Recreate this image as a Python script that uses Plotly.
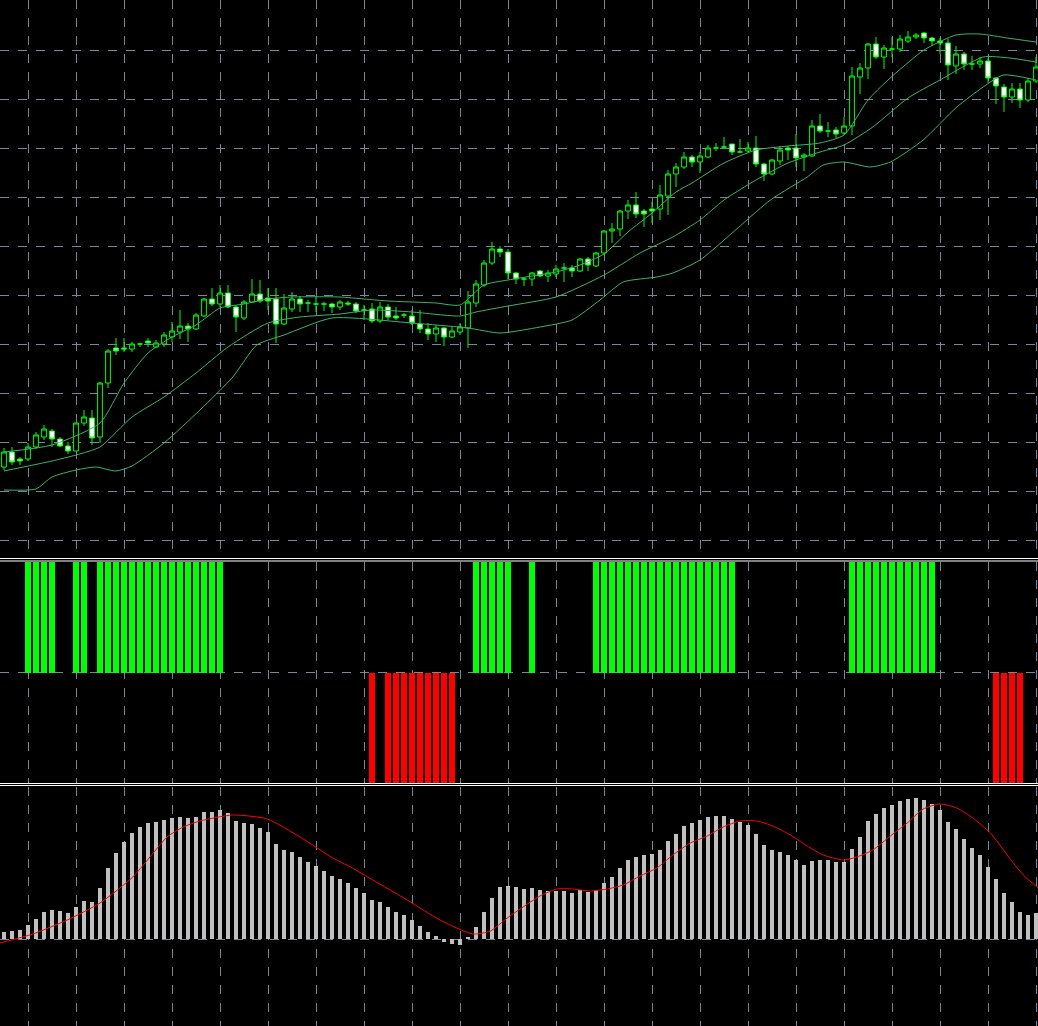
import plotly.graph_objects as go

# ── Data (in screen-pixel units; converted below) ──
OPEN_PX = [467, 452, 459, 459, 447, 437, 431, 439, 446, 451, 423, 418, 437, 383, 348, 348, 349, 344, 341, 347,
           344, 337, 332, 326, 329, 316, 299, 304, 293, 307, 318, 302, 294, 298, 299, 324, 309, 299, 303, 304,
           304, 304, 307, 303, 304, 310, 309, 321, 307, 316, 315, 316, 324, 329, 334, 328, 337, 332, 328, 303,
           285, 263, 249, 252, 273, 279, 279, 271, 276, 274, 268, 268, 271, 259, 266, 253, 231, 229, 211, 205,
           211, 209, 209, 196, 174, 167, 157, 162, 157, 148, 147, 144, 152, 151, 148, 164, 174, 161, 148, 148,
           157, 156, 126, 131, 130, 133, 126, 77, 68, 44, 57, 49, 49, 41, 37, 33, 38, 41, 43, 66,
           54, 64, 64, 61, 78, 87, 97, 89, 100, 81]
HIGH_PX = [448, 447, 457, 443, 432, 425, 429, 437, 442, 423, 410, 410, 382, 349, 338, 338, 342, 343, 338, 340,
           332, 322, 310, 323, 313, 298, 288, 285, 285, 305, 300, 279, 280, 288, 288, 294, 292, 296, 300, 297,
           302, 303, 300, 301, 302, 305, 303, 302, 304, 307, 313, 310, 310, 323, 325, 327, 327, 323, 291, 280,
           260, 242, 246, 249, 272, 277, 272, 270, 270, 265, 263, 265, 258, 257, 252, 230, 223, 210, 200, 192,
           209, 202, 185, 170, 163, 152, 155, 152, 145, 143, 137, 144, 139, 142, 136, 163, 159, 146, 146, 134,
           153, 120, 114, 122, 127, 117, 67, 63, 43, 37, 45, 37, 35, 31, 33, 32, 37, 38, 39, 46,
           52, 56, 57, 58, 77, 84, 83, 83, 78, 57]
LOW_PX = [470, 465, 465, 461, 449, 440, 447, 447, 454, 451, 426, 445, 443, 388, 355, 352, 352, 347, 347, 348,
          347, 342, 339, 342, 330, 317, 306, 307, 308, 332, 320, 303, 303, 310, 343, 325, 312, 312, 312, 312,
          311, 313, 310, 306, 313, 320, 323, 323, 320, 320, 318, 325, 333, 340, 342, 346, 338, 335, 348, 307,
          287, 265, 257, 279, 284, 286, 286, 277, 282, 277, 282, 277, 272, 271, 267, 254, 243, 236, 219, 218,
          227, 223, 220, 215, 187, 169, 167, 173, 158, 151, 148, 155, 153, 152, 167, 181, 175, 165, 160, 167,
          171, 157, 133, 137, 138, 135, 135, 94, 79, 59, 69, 57, 52, 43, 39, 43, 46, 54, 80, 74,
          70, 70, 68, 83, 104, 112, 103, 108, 102, 83]
CLOSE_PX = [452, 462, 461, 447, 435, 429, 439, 446, 451, 423, 417, 438, 383, 351, 351, 349, 344, 344, 343, 343,
            335, 331, 326, 329, 315, 299, 304, 293, 307, 317, 302, 294, 301, 301, 324, 308, 299, 304, 303, 304,
            304, 307, 302, 304, 311, 310, 321, 307, 317, 318, 315, 323, 329, 334, 328, 337, 331, 327, 302, 284,
            263, 249, 252, 273, 279, 279, 273, 276, 273, 269, 268, 271, 259, 265, 253, 231, 229, 211, 205, 214,
            214, 211, 195, 174, 167, 157, 162, 156, 148, 148, 147, 152, 152, 148, 164, 174, 160, 150, 150, 158,
            155, 126, 131, 131, 134, 126, 76, 68, 44, 57, 48, 49, 39, 37, 35, 38, 41, 43, 65, 54,
            64, 64, 61, 78, 86, 97, 89, 100, 81, 67]

UPPER_BAR = [0, 6, 12, 15, 18, 21, 24, 27, 30, 33, 36, 42, 45, 48, 51, 54, 57, 60, 63, 66, 69, 72, 75, 78, 81,
             84, 86, 90, 94, 98, 102, 105, 108, 110.5, 115, 119, 122, 125.4, 129]
UPPER_PX = [452, 445, 423, 383, 353, 337, 325, 308, 304, 299, 297, 297, 299, 301, 302, 303, 305, 285, 280, 276,
            272, 265, 254, 232, 213, 192, 183, 163, 150, 146, 143, 135, 100, 80, 50, 35, 34, 38, 42]
MIDDLE_BAR = [0, 6, 9, 12, 16, 20, 24, 28, 33, 37, 42, 46, 51, 57, 59, 63, 69, 75, 79.5, 83.6, 87, 90, 94, 98,
              102, 105, 108.6, 113, 117, 122.4, 125.7, 129]
MIDDLE_PX = [471, 461, 455, 447, 417, 397, 373, 347, 323, 317, 314, 310, 312, 316, 312, 306, 297, 275, 253, 237,
             220, 200, 180, 163, 152, 145, 127, 98, 80, 57, 58, 62]
LOWER_BAR = [0, 4, 6, 9, 11.5, 14, 16, 20, 24.5, 28.6, 31.6, 35, 41, 51, 58, 62, 67, 71, 74.5, 77.4, 81.6, 83.6,
             87, 95.8, 100.4, 102.4, 105, 108.3, 110.8, 114.9, 119.1, 122.4, 124.9, 129]
LOWER_PX = [490, 489, 477, 470, 467, 471, 466, 443, 410, 377, 345, 335, 318, 323, 328, 333, 327, 320, 300, 282,
            277, 273, 260, 200, 177, 165, 162, 167, 162, 140, 107, 87, 75, 80]

GREEN_BARS = [3, 4, 5, 6, 9, 10] + list(range(12, 28)) + [59, 60, 61, 62, 63, 66] + list(range(74, 92)) + list(range(106, 117))
RED_BARS = [46] + list(range(48, 57)) + [124, 125, 126, 127]

MACD = [7, 8, 9, 14, 20, 27, 29, 28, 26, 32, 38, 37, 51, 71, 86, 97, 106, 112, 116, 117,
        119, 121, 122, 121, 122, 127, 127, 129, 126, 118, 116, 115, 111, 107, 95, 89, 87, 82, 77, 73,
        68, 63, 60, 56, 51, 46, 39, 37, 32, 27, 24, 19, 13, 7, 3, -3, -5, -6, 2, 12,
        27, 41, 52, 53, 52, 50, 51, 49, 48, 48, 48, 46, 49, 47, 49, 56, 62, 71, 79, 82,
        84, 85, 89, 98, 105, 113, 116, 119, 122, 123, 123, 120, 117, 114, 105, 94, 89, 87, 84, 79,
        74, 78, 79, 79, 77, 77, 90, 102, 118, 125, 131, 134, 138, 140, 141, 139, 135, 129, 117, 110,
        100, 91, 84, 72, 60, 46, 37, 27, 24, 26]
SIGNAL_BAR = [-0.5, 3.6, 7.9, 12, 16.1, 20.4, 22.4, 24.5, 28.6, 32.9, 37, 41.1, 43.3, 46.1, 50.4, 54.5, 58.6,
              60.8, 62.9, 67, 69.1, 71.1, 73.3, 75.4, 77.4, 79.5, 81.6, 83.6, 85.8, 87.9, 89.9, 92, 94.1, 96.1,
              98.3, 100.4, 102.4, 104.9, 106.6, 108.6, 110.8, 112.9, 114.9, 117, 119.1, 121.1, 123.3, 125.4,
              127.4, 129.3]
SIGNAL = [-4, 5, 19, 36, 62, 102, 112, 118, 124, 120, 102, 81, 72, 59, 39, 19, 5, 8, 21, 43, 50, 50, 48, 50,
          54, 63, 71, 84, 96, 103, 112, 118, 118, 113, 104, 93, 84, 79, 82, 89, 103, 116, 130, 135, 131, 121,
          106, 84, 64, 51]

# ── Style ─────────────────────────────────────────────────────────────
W, H = 1038, 1026
GRID = "#778899"
CANDLE = "#00FF00"
BAND = "#3CB371"


def to_price(px):
    return [600 - v for v in px]


def frac(py):
    return 1 - py / H


bars = list(range(len(OPEN_PX)))
fig = go.Figure()

fig.add_trace(go.Candlestick(
    x=bars, open=to_price(OPEN_PX), high=to_price(HIGH_PX),
    low=to_price(LOW_PX), close=to_price(CLOSE_PX),
    increasing=dict(line=dict(color=CANDLE, width=1), fillcolor="black"),
    decreasing=dict(line=dict(color=CANDLE, width=1), fillcolor="white"),
    whiskerwidth=0, xaxis="x", yaxis="y", showlegend=False,
))
for bx, by in [(UPPER_BAR, UPPER_PX), (MIDDLE_BAR, MIDDLE_PX), (LOWER_BAR, LOWER_PX)]:
    fig.add_trace(go.Scatter(x=bx, y=to_price(by), mode="lines",
                             line=dict(color=BAND, width=1, shape="spline", smoothing=0.6),
                             xaxis="x", yaxis="y", showlegend=False))

fig.add_trace(go.Bar(x=GREEN_BARS, y=[1] * len(GREEN_BARS), width=0.65, marker_color="#00FF00",
                     marker_line_width=0, xaxis="x2", yaxis="y2", showlegend=False))
fig.add_trace(go.Bar(x=RED_BARS, y=[-1] * len(RED_BARS), width=0.65, marker_color="#FF0000",
                     marker_line_width=0, xaxis="x2", yaxis="y2", showlegend=False))

fig.add_trace(go.Bar(x=bars, y=MACD, width=0.4, marker_color="#C0C0C0", marker_line_width=0,
                     xaxis="x3", yaxis="y3", showlegend=False))
fig.add_trace(go.Scatter(x=SIGNAL_BAR, y=SIGNAL, mode="lines",
                         line=dict(color="#FF0000", width=1, shape="spline", smoothing=0.6),
                         xaxis="x3", yaxis="y3", showlegend=False))

xcommon = dict(range=[-0.5, 129.25], tick0=3, dtick=6, showticklabels=False, showgrid=True,
               gridcolor=GRID, griddash="dash", gridwidth=1, zeroline=False, showline=False, ticks="")
ycommon = dict(showticklabels=False, showgrid=True, gridcolor=GRID, griddash="dash", gridwidth=1,
               zeroline=False, showline=False, ticks="")

fig.update_layout(
    width=W, height=H,
    margin=dict(l=0, r=0, t=0, b=0),
    paper_bgcolor="black", plot_bgcolor="black",
    bargap=0, barmode="overlay", boxgap=0.15,
    xaxis=dict(**xcommon, anchor="y", rangeslider=dict(visible=False)),
    xaxis2=dict(**xcommon, anchor="y2", matches="x"),
    xaxis3=dict(**xcommon, anchor="y3", matches="x"),
    yaxis=dict(**ycommon, domain=[frac(557), 1], range=[600 - 557, 600], tick0=599, dtick=49),
    yaxis2=dict(**ycommon, domain=[frac(783), frac(562)], range=[-1, 1], tick0=0, dtick=5),
    yaxis3=dict(**ycommon, domain=[0, frac(787)], range=[-87, 152], tick0=0, dtick=500),
)

# double white separators between panes
for py in [558.5, 561, 783.5, 785.5]:
    fig.add_shape(type="line", xref="paper", yref="paper", x0=0, x1=1, y0=frac(py), y1=frac(py),
                  line=dict(color="white", width=1))

# drop the page's default body margin so the chart sits flush in the window
fig.write_html("out.html", config={"displayModeBar": False},
               post_script="document.body.style.margin='0';"
                           "document.body.style.background='black';")
